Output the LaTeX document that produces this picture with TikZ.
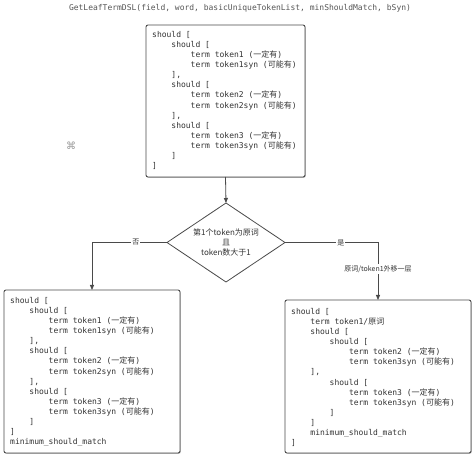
\documentclass[tikz,border=0pt]{standalone}
\usepackage{fontspec}
\setmonofont{DejaVu Sans Mono}
\newfontfamily\cjk{Noto Sans CJK SC}
\newfontfamily\symfont{DejaVu Sans}
\usetikzlibrary{arrows.meta,shapes.geometric,shadows}
\definecolor{lineC}{HTML}{4A4A4A}
\definecolor{textC}{HTML}{333333}
\definecolor{titleC}{HTML}{555555}
\newcommand\spA{\hphantom{xxxx}}
\newcommand\spB{\hphantom{xxxxxxxx}}
\newcommand\spC{\hphantom{xxxxxxxxxxxx}}
\newcommand\zh[1]{{\cjk #1}}
\tikzset{
  codebox/.style={draw=lineC, line width=0.9pt, rounded corners=2pt, fill=white,
    drop shadow={shadow xshift=0.8pt,shadow yshift=-0.8pt,opacity=0.25,fill=black},
    inner sep=0pt, outer sep=0pt},
  code/.style={font={\ttfamily\fontsize{8pt}{10.12pt}\selectfont}, text=textC, align=left,
    inner sep=0pt, anchor=north west},
  conn/.style={draw=lineC, line width=0.8pt},
  arr/.style={conn, -{Triangle[length=5pt,width=4pt]}},
  lbl/.style={font={\cjk\fontsize{7pt}{8pt}\selectfont}, fill=white, inner sep=1pt, text=textC},
  decision/.style={diamond, draw=lineC, line width=0.8pt, shape aspect=1.5,
    minimum width=118pt, minimum height=79pt, inner sep=0pt, outer sep=0pt,
    font={\cjk\fontsize{8pt}{10pt}\selectfont}, text=textC, align=center},
}
\begin{document}
\begin{tikzpicture}[x=1pt,y=-1pt]
\useasboundingbox (0,0) rectangle (474,454);
\node[font={\ttfamily\fontsize{8pt}{10pt}\selectfont}, text=titleC, anchor=base, inner sep=0pt] (title) at (240,11)
  {GetLeafTermDSL(field, word, basicUniqueTokenList, minShouldMatch, bSyn)};
\node[text=gray!80, font={\symfont\fontsize{10pt}{12pt}\selectfont}, inner sep=0pt] (icon) at (71,146) {⌘};

% top box
\node[codebox, minimum width=159pt, minimum height=152pt] (top) at (225.5,101) {};
\node[code] (topT) at (152,30.9) {should [\\
\spA should [\\
\spB term token1 (\zh{一定有})\\
\spB term token1syn (\zh{可能有})\\
\spA ],\\
\spA should [\\
\spB term token2 (\zh{一定有})\\
\spB term token2syn (\zh{可能有})\\
\spA ],\\
\spA should [\\
\spB term token3 (\zh{一定有})\\
\spB term token3syn (\zh{可能有})\\
\spA ]\\
]};

% decision
\node[decision] (dec) at (226,242.5) {第1个token为原词\\且\\token数大于1};

% left box
\node[codebox, minimum width=176pt, minimum height=163pt] (left) at (92,371.5) {};
\node[code] (leftT) at (10,296.9) {should [\\
\spA should [\\
\spB term token1 (\zh{一定有})\\
\spB term token1syn (\zh{可能有})\\
\spA ],\\
\spA should [\\
\spB term token2 (\zh{一定有})\\
\spB term token2syn (\zh{可能有})\\
\spA ],\\
\spA should [\\
\spB term token3 (\zh{一定有})\\
\spB term token3syn (\zh{可能有})\\
\spA ]\\
]\\
minimum\_should\_match};

% right box
\node[codebox, minimum width=186pt, minimum height=153pt] (right) at (378,376.5) {};
\node[code] (rightT) at (291,307.9) {should [\\
\spA term token1/\zh{原词}\\
\spA should [\\
\spB should [\\
\spC term token2 (\zh{一定有})\\
\spC term token3syn (\zh{可能有})\\
\spA ],\\
\spB should [\\
\spC term token3 (\zh{一定有})\\
\spC term token3syn (\zh{可能有})\\
\spB ]\\
\spA ]\\
\spA minimum\_should\_match\\
]};

% connectors
\draw[arr] (top.south) -- (dec.north);
\draw[arr] (dec.west) -| node[lbl, pos=0.207] (no) {否} (left.north);
\draw[arr] (dec.east) -| node[lbl, pos=0.3] (yes) {是}
  node[lbl, pos=0.73] (move) {原词/token1外移一层} (right.north);
\end{tikzpicture}
\end{document}
